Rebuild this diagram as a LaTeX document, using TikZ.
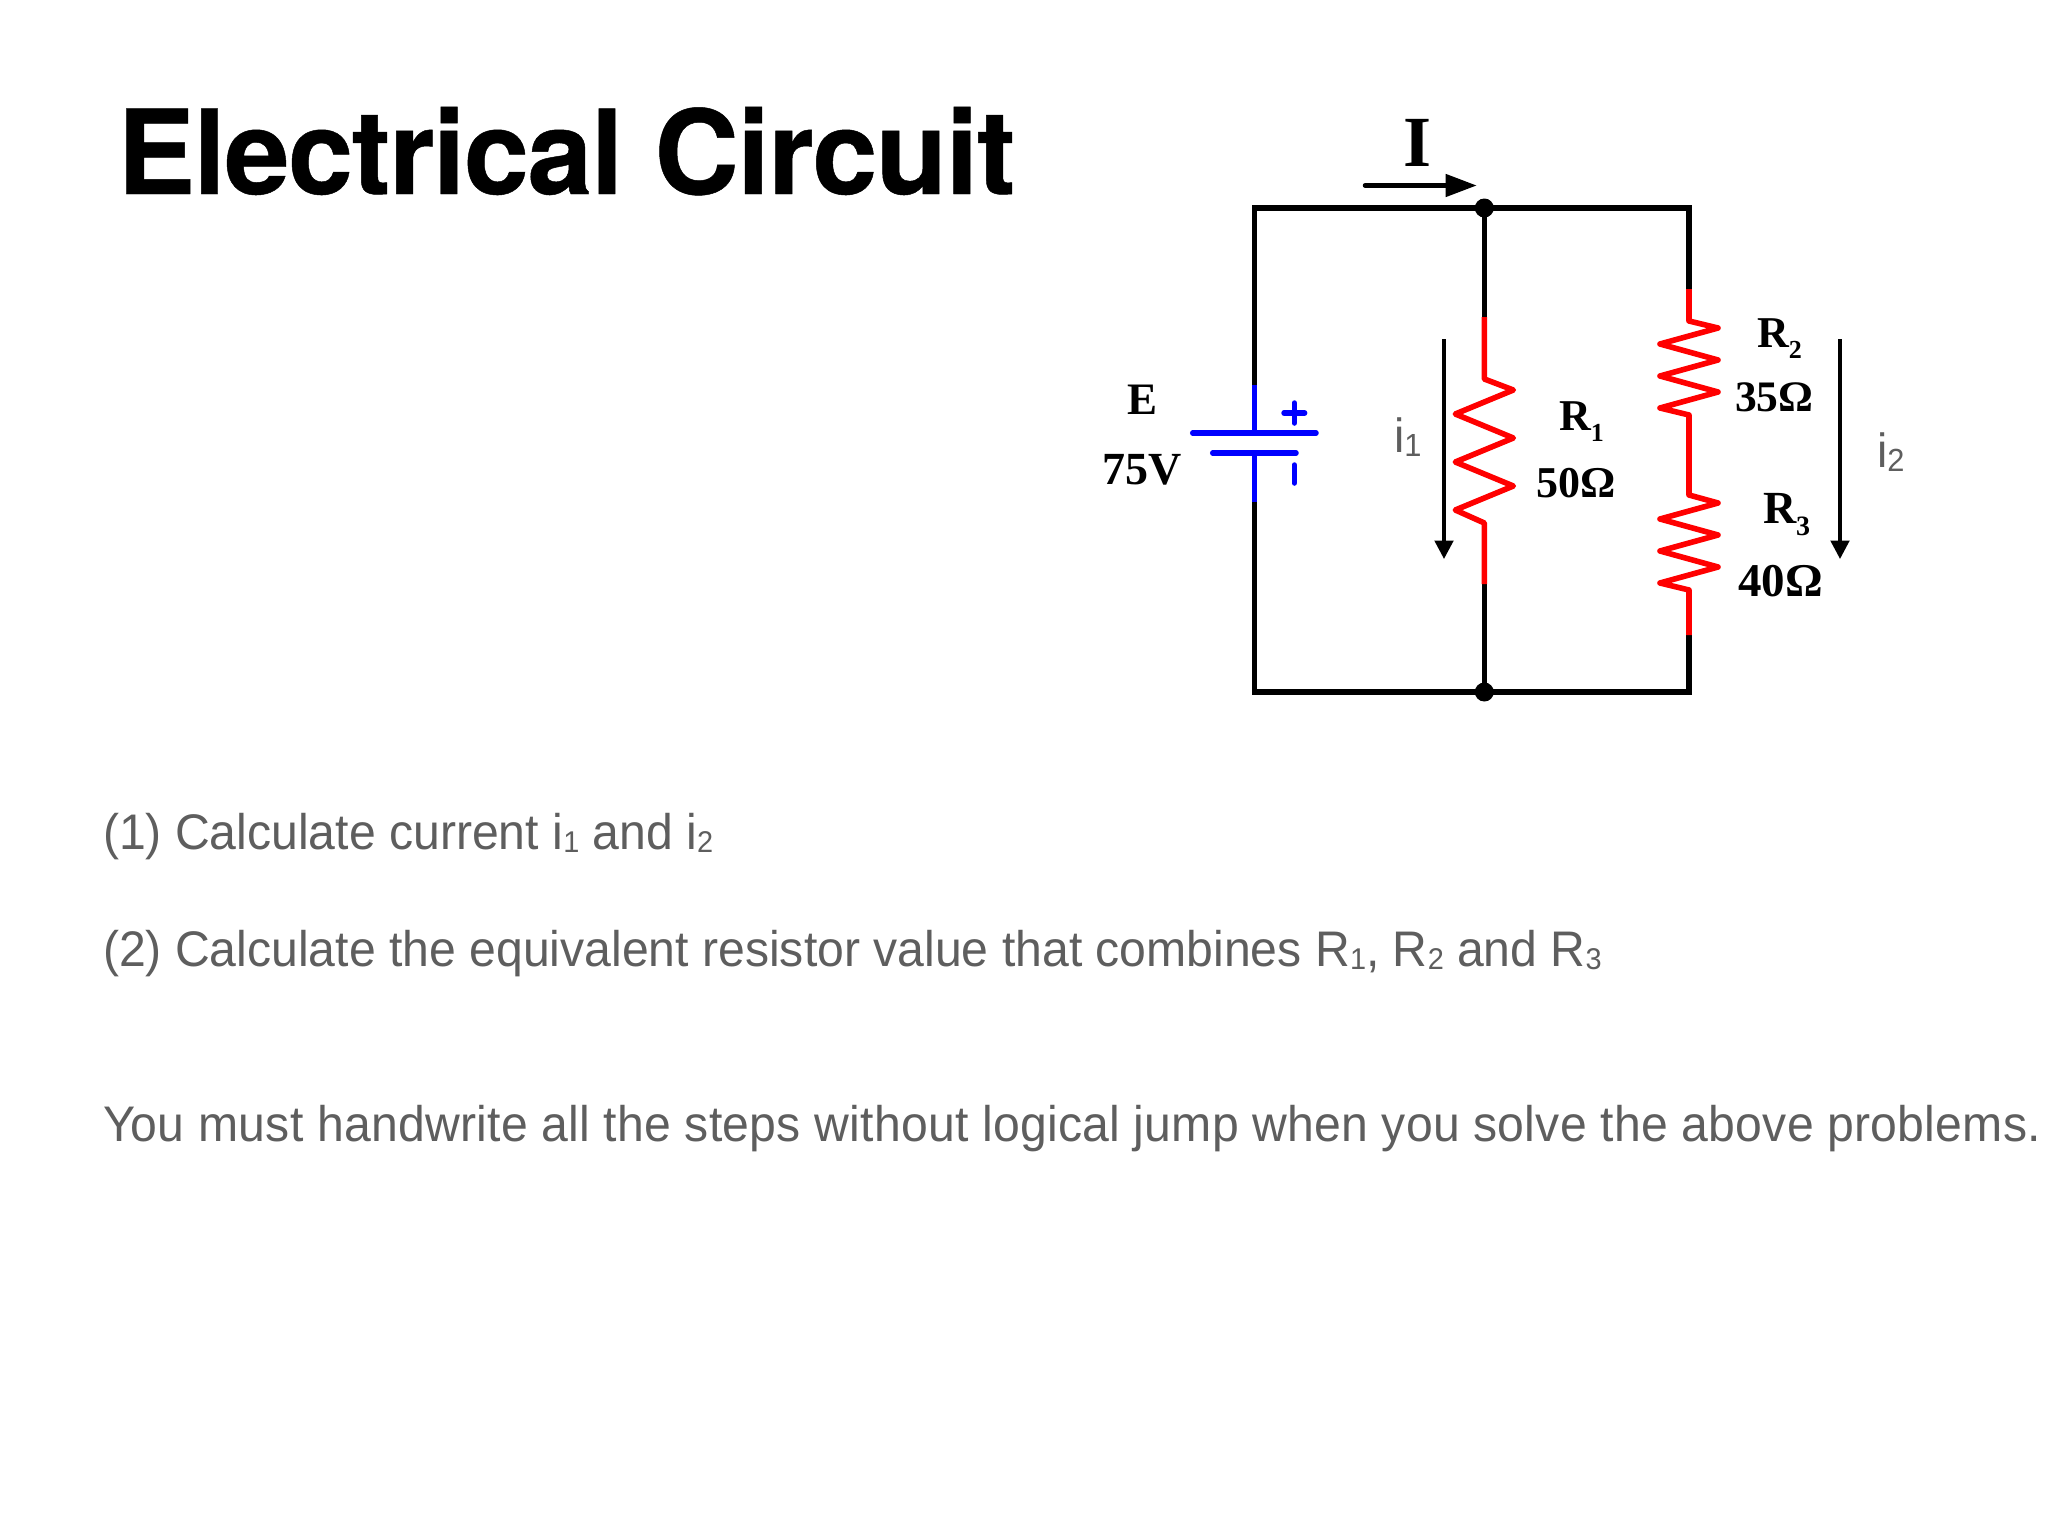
\documentclass[tikz,border=0pt]{standalone}
\usepackage{fontspec}
\usetikzlibrary{arrows.meta}
\setmainfont{Liberation Sans}[FakeStretch=0.963]
\newfontfamily\titlefont{TeX Gyre Heros}[BoldFont={* Bold},BoldFeatures={LetterSpace=-1.32,FakeBold=0.4}]
\newfontfamily\serifb{Liberation Serif}[BoldFont={* Bold}]
\newcommand{\bodysub}[1]{\raisebox{-3.4pt}{\fontsize{30}{36}\selectfont #1}}
\newcommand{\Rlab}[3]{{\fontsize{#2}{50}\selectfont\serifb\bfseries R\raisebox{-11.5pt}{\fontsize{#3}{30}\selectfont #1}}}
\definecolor{bodygray}{HTML}{5E5E5E}
\definecolor{wred}{HTML}{FF0000}
\definecolor{wblue}{HTML}{0000FF}
\tikzset{
  wire/.style={line width=5.2pt,black,line cap=butt,line join=miter},
  res/.style={line width=5.6pt,wred,line cap=butt,line join=round},
  bat/.style={line width=5.4pt,wblue,line cap=butt},
  plate/.style={line width=5.5pt,wblue,line cap=round},
  dot/.style={circle,fill=black,inner sep=0pt,minimum size=19pt},
  txt/.style={anchor=base west,inner sep=0pt,outer sep=0pt},
  body/.style={txt,text=bodygray,font=\fontsize{50}{60}\selectfont},
  title/.style={txt,text=black,font=\titlefont\bfseries\fontsize{117}{130}\selectfont},
  val/.style={txt,font=\serifb\bfseries\fontsize{45}{54}\selectfont},
  cur/.style={txt,text=bodygray,font=\fontsize{48}{56}\selectfont},
  thinarrow/.style={line width=3.6pt,black,-{Triangle[length=18.5pt,width=18.5pt]}},
  bigarrow/.style={line width=4.5pt,black,line cap=round,-{Triangle[length=31pt,width=22pt]}},
  x=1pt,y=-1pt
}
\begin{document}
\begin{tikzpicture}
\useasboundingbox[fill=white] (0,0) rectangle (2048,1536);
% coordinates
\coordinate (TL) at (1254.3,208);
\coordinate (BL) at (1254.3,692);
\coordinate (TR) at (1689,208);
\coordinate (BR) at (1689,692);
\coordinate (bat1) at (1254.3,385);
\coordinate (bat1e) at (1254.3,433);
\coordinate (bat2) at (1254.3,502);
\coordinate (bat2e) at (1254.3,453);
\coordinate (R1a) at (1484.3,317);
\coordinate (R1b) at (1484.3,584);
\coordinate (R2a) at (1689,289);
\coordinate (R3b) at (1689,635);
\node[dot] (J1) at (1484.3,208) {};
\node[dot] (J2) at (1484.3,692) {};
% wires
\draw[wire] (J1.center) -- (TL) -- (bat1);
\draw[wire] (J2.center) -- (BL) -- (bat2);
\draw[wire] (J1.center) -- (TR) -- (R2a);
\draw[wire] (J2.center) -- (BR) -- (R3b);
\draw[wire] (J1.center) -- (R1a);
\draw[wire] (J2.center) -- (R1b);
% resistors
\draw[res] (R1a) -- (1484.3,379) -- (1513.3,390) -- (1455.3,414) -- (1513.3,438) -- (1455.3,462) -- (1513.3,486) -- (1455.3,510) -- (1484.3,523) -- (R1b);
\draw[res] (R2a) -- (1689,321) -- (1718,328) -- (1660,344) -- (1718,360) -- (1660,376) -- (1718,392) -- (1660,408) -- (1689,415)
 -- (1689,495) -- (1718,503) -- (1660,519) -- (1718,535) -- (1660,551) -- (1718,567) -- (1660,583) -- (1689,590) -- (R3b);
% battery
\draw[bat] (bat1) -- (bat1e);
\draw[bat] (bat2) -- (bat2e);
\coordinate (P1a) at (1192.7,433); \coordinate (P1b) at (1316,433);
\coordinate (P2a) at (1212.7,453); \coordinate (P2b) at (1296,453);
\draw[plate] (P1a) -- (P1b);
\draw[plate] (P2a) -- (P2b);
\coordinate (Pl) at (1284,413); \coordinate (Pr) at (1304.6,413);
\coordinate (Pt) at (1294.3,403); \coordinate (Pb) at (1294.3,423);
\draw[plate] (Pl) -- (Pr); \draw[plate] (Pt) -- (Pb);
\coordinate (Ma) at (1294.3,465); \coordinate (Mb) at (1294.3,483);
\draw[plate] (Ma) -- (Mb);
% arrows
\coordinate (Ia) at (1365,185.5); \coordinate (Ib) at (1476.7,185.5);
\draw[bigarrow] (Ia) -- (Ib);
\coordinate (i1a) at (1444,339); \coordinate (i1b) at (1444,559);
\draw[thinarrow] (i1a) -- (i1b);
\coordinate (i2a) at (1840,339); \coordinate (i2b) at (1840,559);
\draw[thinarrow] (i2a) -- (i2b);
% labels
\node[title] (ttl) at (117,194) {Electrical Circuit};
\node[body] (q1) at (103,849.5) {(1) Calculate current i\bodysub{1} and i\bodysub{2}};
\node[body] (q2) at (103,966.5) {(2) Calculate the equivalent resistor value that combines R\bodysub{1}, R\bodysub{2} and R\bodysub{3}};
\node[body] (q3) at (103,1141) {\addfontfeature{LetterSpace=0.5}You must handwrite all the steps without logical jump when you solve the above problems.};
\node[val] (E) at (1127,414) {E};
\node[val,font=\serifb\bfseries\fontsize{46}{54}\selectfont] (V) at (1102,484.5) {75V};
\node[txt,font=\serifb\bfseries\fontsize{72}{80}\selectfont] (I) at (1403,167) {I};
\node[txt] (R1) at (1559,430) {\Rlab{1}{44}{26}};
\node[txt] (R2) at (1757,347) {\Rlab{2}{44}{26}};
\node[txt] (R3) at (1763,523.6) {\Rlab{3}{46}{28}};
\node[val,font=\serifb\bfseries\fontsize{44}{54}\selectfont] (v1) at (1536,497) {50Ω};
\node[val,font=\serifb\bfseries\fontsize{43.5}{54}\selectfont] (v2) at (1735,411) {35Ω};
\node[val,font=\serifb\bfseries\fontsize{47}{54}\selectfont] (v3) at (1738,596) {40Ω};
\node[cur] (c1) at (1394,452.7) {i\raisebox{-4pt}{\fontsize{32}{40}\selectfont 1}};
\node[cur] (c2) at (1877,467) {i\raisebox{-4pt}{\fontsize{32}{40}\selectfont 2}};
\end{tikzpicture}
\end{document}
